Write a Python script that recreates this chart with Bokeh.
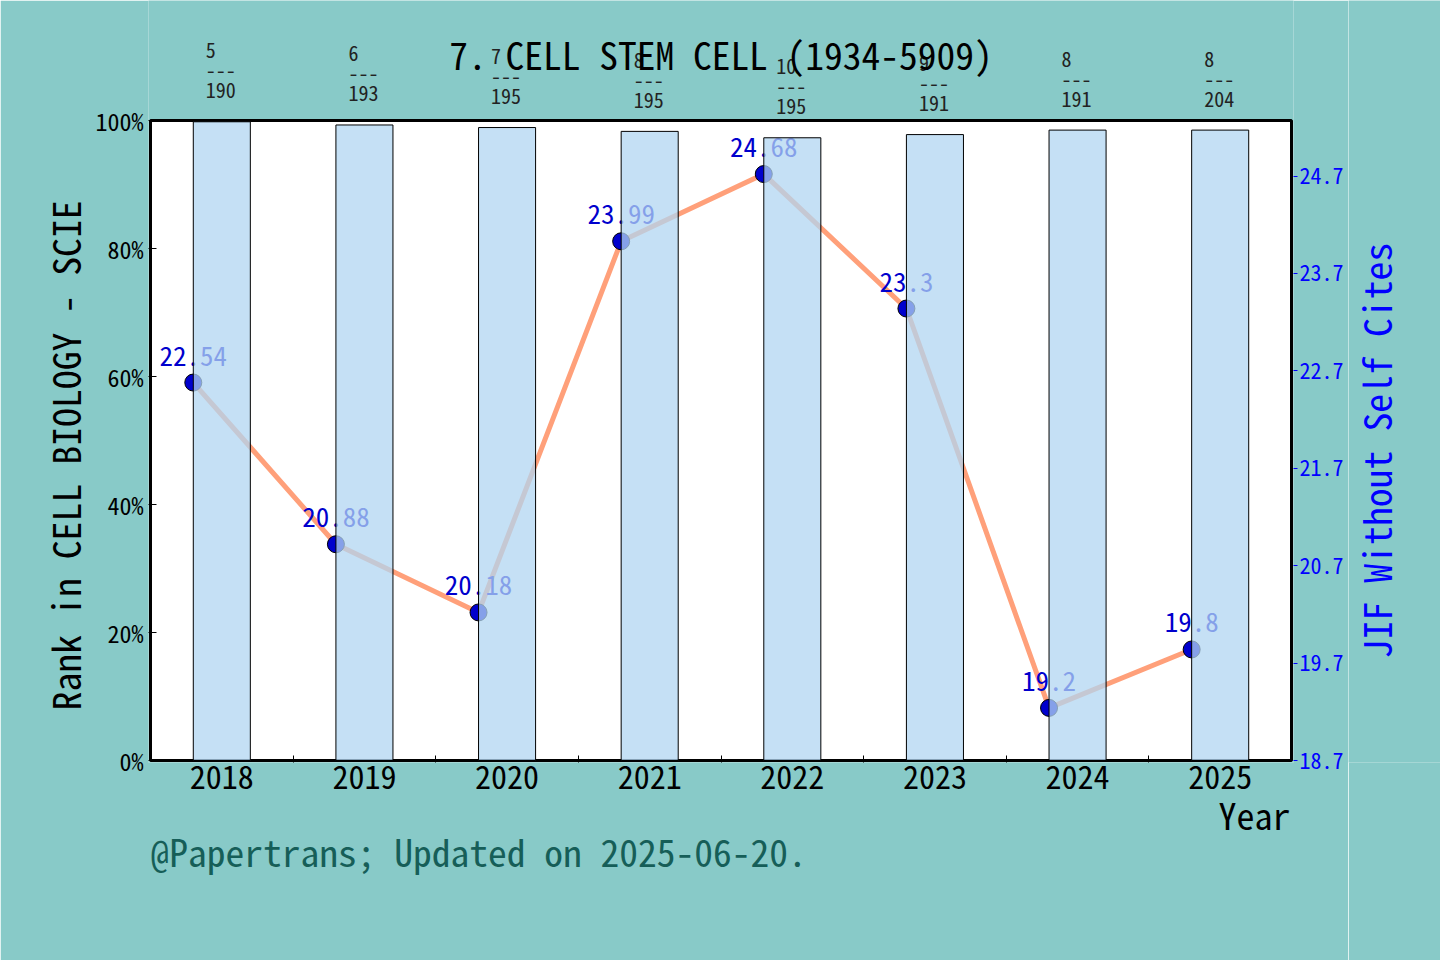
import math
from bokeh.plotting import figure
from bokeh.models import Range1d, LinearAxis, FixedTicker, Title
from bokeh.layouts import row
from bokeh.core.properties import value
from bokeh.embed import file_html
from bokeh.resources import INLINE

# ---- data ----
YEARS = ["2018", "2019", "2020", "2021", "2022", "2023", "2024", "2025"]
RANK = [5, 6, 7, 8, 10, 9, 8, 8]
TOTAL = [190, 193, 195, 195, 195, 191, 191, 204]
BAR_PCT = [99.8, 99.3, 98.9, 98.3, 97.3, 97.8, 98.5, 98.5]
JIF = [22.54, 20.88, 20.18, 23.99, 24.68, 23.3, 19.2, 19.8]
JIF_LABELS = ["22.54", "20.88", "20.18", "23.99", "24.68", "23.3", "19.2", "19.8"]
LEFT_TICKS = [0, 20, 40, 60, 80, 100]
LEFT_TICK_LABELS = ["0%", "20%", "40%", "60%", "80%", "100%"]
RIGHT_TICKS = [18.66, 19.66, 20.66, 21.66, 22.66, 23.66, 24.66]
RIGHT_TICK_LABELS = ["18.7", "19.7", "20.7", "21.7", "22.7", "23.7", "24.7"]
JIF_LO, JIF_HI = 18.66, 25.23
TITLE = "7. CELL STEM CELL (1934-5909)"
FOOTER = "@Papertrans; Updated on 2025-06-20."
YLABEL = "Rank in CELL BIOLOGY - SCIE"
Y2LABEL = "JIF Without Self Cites"
XLABEL = "Year"

FONT = "Noto Sans Mono CJK SC"
BG = "#88CAC8"

n = len(YEARS)
xs = list(range(n))
xline = [i - 0.2 for i in xs]

# ---- geometry (pixels) ----
W_TOTAL, H = 1440, 960
W_MAIN = 1348
W_STRIP = W_TOTAL - W_MAIN
PLOT_LEFT, PLOT_RIGHT, PLOT_TOP, PLOT_H = 150, 1291, 120, 640
PAD = 2
PPU = PLOT_H / 100.0                        # px per percent
XPPU = (PLOT_RIGHT - PLOT_LEFT) / float(n)  # px per category
JPU = PLOT_H / (JIF_HI - JIF_LO)            # px per JIF unit
BORDER_BOTTOM = H - PLOT_TOP - PLOT_H - PAD

x_range = Range1d(-0.5 - PAD / XPPU, n - 0.5 + PAD / XPPU)
y_range = Range1d(-PAD / PPU, 100 + PLOT_TOP / PPU)


def plain(fig):
    fig.background_fill_color = BG
    fig.border_fill_color = BG
    fig.outline_line_color = None
    fig.xgrid.visible = False
    fig.ygrid.visible = False


p = figure(width=W_MAIN, height=H, x_range=x_range, y_range=y_range,
           output_backend="svg", toolbar_location=None,
           min_border_left=PLOT_LEFT - PAD, min_border_right=W_MAIN - PLOT_RIGHT - PAD,
           min_border_top=0, min_border_bottom=BORDER_BOTTOM)
plain(p)
p.extra_y_ranges = {"jif": Range1d(JIF_LO - PAD / JPU, JIF_HI + PLOT_TOP / JPU)}

# plot area (white, black spines)
p.quad(left=[-0.5], right=[n - 0.5], bottom=[0], top=[100], fill_color="white",
       line_color="black", line_width=3)

# left axis
ya = p.yaxis[0]
ya.ticker = FixedTicker(ticks=LEFT_TICKS, minor_ticks=[])
ya.major_label_overrides = {t: l for t, l in zip(LEFT_TICKS, LEFT_TICK_LABELS)}
ya.major_tick_in = 8
ya.major_tick_out = 0
ya.major_tick_line_color = "black"
ya.minor_tick_line_color = None
ya.axis_line_color = None
ya.major_label_text_font = FONT
ya.major_label_text_font_size = "24px"
ya.major_label_text_color = "black"
ya.major_label_standoff = 5

# bottom axis
xa = p.xaxis[0]
xa.ticker = FixedTicker(ticks=xs, minor_ticks=[i + 0.5 for i in xs[:-1]])
xa.major_label_overrides = {i: y for i, y in zip(xs, YEARS)}
xa.major_tick_in = 0
xa.major_tick_out = 0
xa.minor_tick_in = 7
xa.minor_tick_out = 0
xa.minor_tick_line_color = "black"
xa.axis_line_color = None
xa.major_label_text_font = FONT
xa.major_label_text_font_size = "32px"
xa.major_label_text_color = "black"
xa.major_label_standoff = 2

# right axis
ra = LinearAxis(y_range_name="jif", ticker=FixedTicker(ticks=RIGHT_TICKS, minor_ticks=[]))
ra.major_label_overrides = {t: l for t, l in zip(RIGHT_TICKS, RIGHT_TICK_LABELS)}
ra.major_tick_in = 0
ra.major_tick_out = 4
ra.major_tick_line_color = "blue"
ra.minor_tick_line_color = None
ra.axis_line_color = None
ra.major_label_text_font = FONT
ra.major_label_text_font_size = "22px"
ra.major_label_text_color = "blue"
ra.major_label_standoff = 2
p.add_layout(ra, "right")

# left axis title (rotated, starting near the bottom of the plot)
p.add_layout(Title(text=YLABEL, align="left", offset=52, standoff=2,
                   text_font=FONT, text_font_size="37.8px", text_font_style="normal",
                   text_color="black"), "left")

# "Year" and the footer below the x axis
p.add_layout(Title(text=XLABEL, align="right", offset=PAD + 1, standoff=-12,
                   text_font=FONT, text_font_size="36px", text_font_style="normal",
                   text_color="black"), "below")
p.add_layout(Title(text=FOOTER, align="left", offset=PAD, standoff=-22, vertical_align="top",
                   text_font=FONT, text_font_size="37.5px", text_font_style="normal",
                   text_color="#165E58"), "below")

# line, markers, value labels (drawn before bars so bars overlay them)
p.line(xline, JIF, y_range_name="jif", line_color="#FFA07A", line_width=5)
p.scatter(xline, JIF, y_range_name="jif", size=17, fill_color="#0000CD",
          line_color="black", line_width=1)
p.text(xline, JIF, text=JIF_LABELS, y_range_name="jif", text_align="center",
       text_baseline="alphabetic", y_offset=-27, text_color="#0000CD",
       text_font=value(FONT), text_font_size="27px")

# bars on top, semi-transparent
p.vbar(x=xs, top=BAR_PCT, width=0.4, bottom=0, fill_color="#B2D6F2", fill_alpha=0.75,
       line_color="black", line_width=1)

# rank fractions above the bars
for txts, off in ((RANK, 71), (["---"] * n, 51), (TOTAL, 31)):
    p.text(xs, [b + off / PPU for b in BAR_PCT], text=[str(t) for t in txts],
           x_offset=-16, text_align="left", text_baseline="middle",
           text_font=value(FONT), text_font_size="20px", text_color="#222222")

# chart title
p.text([(n - 1) / 2.0], [100 + (PLOT_TOP - 53) / PPU], text=[TITLE], text_align="center",
       text_baseline="middle", text_font=value(FONT), text_font_size="37.5px",
       text_color="black")

# ---- right strip with the secondary axis title ----
strip = figure(width=W_STRIP, height=H, x_range=Range1d(0, W_STRIP), y_range=y_range,
               x_axis_type=None, y_axis_type=None, output_backend="svg",
               toolbar_location=None, min_border_left=0, min_border_right=0,
               min_border_top=0, min_border_bottom=BORDER_BOTTOM)
plain(strip)
strip.text([1375 - W_MAIN], [100 + (PLOT_TOP - 450) / PPU], text=[Y2LABEL],
           angle=math.pi / 2, text_align="center", text_baseline="middle",
           text_font=value(FONT), text_font_size="37.8px", text_color="blue")

layout = row(p, strip, spacing=0)
open("out.html", "w").write(file_html(layout, INLINE))
